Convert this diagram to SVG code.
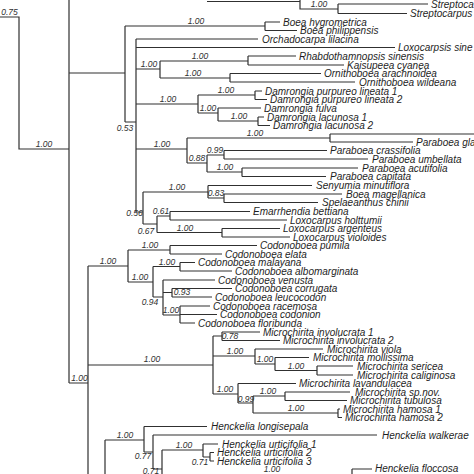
<svg xmlns="http://www.w3.org/2000/svg" width="474" height="474" viewBox="0 0 474 474">
<style>
.e{stroke:#303030;stroke-width:1.2;fill:none}
.t{font-family:"Liberation Sans",Arial,sans-serif;font-style:italic;font-size:10px;fill:#1e1e1e}
.s{font-family:"Liberation Sans",Arial,sans-serif;font-style:italic;font-size:8.5px;fill:#303030;text-anchor:middle}
</style>
<rect width="474" height="474" fill="#ffffff"/>
<g id="connectors" class="e">
<path d="M0 17H19V149H69M69 0V383M69 73H125M69 383H88"/>
<path d="M207 1.5H300M300 0V9H338M338 4V13.5M338 4H428M338 13.5H407"/>
<path d="M125 26V122M125 26H265M125 122H136M265 22V30.5M265 22H280M265 30.5H297"/>
<path d="M136 39V212M136 39H258M136 47.5H395M136 69H160M136 104H198M136 149H187M136 212H143"/>
<path d="M160 61V78M160 61H248M160 78H230M248 56V65M248 56H296M248 65H344M230 73.5V82M230 73.5H321M230 82H355"/>
<path d="M198 95V113M198 95H255M198 113H218M255 91V99.5M255 91H262M255 99.5H267M218 108V121M218 108H261M218 121H258M258 117V125.5M258 117H264M258 125.5H270"/>
<path d="M187 138V163M187 138H330M187 163H207M330 134V142M330 134H474M330 142H413M207 155V172M207 155H224M207 172H242M224 150.5V159M224 150.5H327M224 159H368M242 168V176.5M242 168H358M242 176.5H326"/>
<path d="M143 192V224M143 192H208M143 224H157M208 185.5V198M208 185.5H312M208 198H224M224 194V202.5M224 194H342M224 202.5H318M157 216V232.5M157 216H170M157 232.5H222M170 211.5V220M170 211.5H250M170 220H287M222 228.5V237M222 228.5H280M222 237H290"/>
<path d="M88 266V474M88 266H128M88 365H213M128 250V282M128 250H170M128 282H153M170 245.5V254M170 245.5H257M170 254H222M153 266.5V297M153 266.5H180M153 297H163M180 262.5V271M180 262.5H195M180 271H232M163 280V315M163 280H215M163 292.5H172M163 315H180M172 288.5V297M172 288.5H232M172 297H212M180 306V323M180 306H210M180 314.5H217M180 323H195"/>
<path d="M213 336V394M213 336H222M213 356H255M213 394H238M222 332V340.5M222 332H260M222 340.5H280M255 349V364M255 349H323M255 364H275M275 357.5V370.5M275 357.5H309M275 370.5H317M317 366V375M317 366H353M317 375H353M238 383.5V403M238 383.5H296M238 403H253M253 396V413M253 396H285M253 413H338M285 392V400.5M285 392H350M285 400.5H347M338 409V417.5M338 409H340M338 417.5H342"/>
<path d="M105 440V474M105 440H144M144 426.5V452M144 426.5H207M144 452H153M153 435V469M153 435H377M153 469H162M162 450V474M162 450H203M203 444V457M203 444H218M203 457H210M210 452.5V461M210 452.5H214M210 461H214M352 469V474M352 469H372M220 474.5H352"/>
</g>
<g id="support">
<text class="s" x="9.5" y="15">0.75</text>
<text class="s" x="44" y="147">1.00</text>
<text class="s" x="319" y="7">1.00</text>
<text class="s" x="196" y="24">1.00</text>
<text class="s" x="125" y="131">0.53</text>
<text class="s" x="149" y="67">1.00</text>
<text class="s" x="200" y="59">1.00</text>
<text class="s" x="193" y="76">1.00</text>
<text class="s" x="168" y="102">1.00</text>
<text class="s" x="226" y="93">1.00</text>
<text class="s" x="208" y="111">1.00</text>
<text class="s" x="239" y="119">1.00</text>
<text class="s" x="162" y="147">1.00</text>
<text class="s" x="255" y="136">1.00</text>
<text class="s" x="197" y="161">0.88</text>
<text class="s" x="215" y="153">0.99</text>
<text class="s" x="225" y="170">1.00</text>
<text class="s" x="134.5" y="216">0.56</text>
<text class="s" x="177" y="190">1.00</text>
<text class="s" x="216" y="196">0.83</text>
<text class="s" x="146" y="234">0.67</text>
<text class="s" x="161" y="214">0.61</text>
<text class="s" x="185" y="231">1.00</text>
<text class="s" x="79.5" y="381">1.00</text>
<text class="s" x="108" y="264">1.00</text>
<text class="s" x="150" y="248">1.00</text>
<text class="s" x="140" y="280">1.00</text>
<text class="s" x="167" y="264.5">1.00</text>
<text class="s" x="150" y="305">0.94</text>
<text class="s" x="182" y="295">0.93</text>
<text class="s" x="171" y="313">1.00</text>
<text class="s" x="152" y="362">1.00</text>
<text class="s" x="230" y="339">0.78</text>
<text class="s" x="235" y="354">1.00</text>
<text class="s" x="265" y="361.5">1.00</text>
<text class="s" x="296" y="369">1.00</text>
<text class="s" x="225" y="392">1.00</text>
<text class="s" x="246" y="401.5">0.99</text>
<text class="s" x="268" y="394">1.00</text>
<text class="s" x="296" y="411">1.00</text>
<text class="s" x="125" y="438">1.00</text>
<text class="s" x="143" y="459">0.77</text>
<text class="s" x="151" y="474">0.71</text>
<text class="s" x="184" y="448">1.00</text>
<text class="s" x="200" y="465">0.71</text>
<text class="s" x="272" y="472">1.00</text>
</g>
<g id="leaves" class="t">
<g id="n0"><text x="431" y="8">Streptoca</text></g>
<g id="n1"><text x="410" y="17">Streptocarpus a</text></g>
<g id="n2"><text x="283" y="25.6">Boea hygrometrica</text></g>
<g id="n3"><text x="300" y="34">Boea philippensis</text></g>
<g id="n4"><text x="262" y="42.6">Orchadocarpa lilacina</text></g>
<g id="n5"><text x="398" y="51">Loxocarpsis sine</text></g>
<g id="n6"><text x="299" y="59.6">Rhabdothamnopsis sinensis</text></g>
<g id="n7"><text x="347" y="68.6">Kaisupeea cyanea</text></g>
<g id="n8"><text x="324" y="77">Ornithoboea arachnoidea</text></g>
<g id="n9"><text x="359" y="85.6">Ornithoboea wildeana</text></g>
<g id="n10"><text x="265" y="94.6">Damrongia purpureo lineata 1</text></g>
<g id="n11"><text x="270" y="103">Damrongia purpureo lineata 2</text></g>
<g id="n12"><text x="264" y="111.6">Damrongia fulva</text></g>
<g id="n13"><text x="267" y="120.6">Damrongia lacunosa 1</text></g>
<g id="n14"><text x="273" y="129">Damrongia lacunosa 2</text></g>
<g id="n16"><text x="416" y="145.6">Paraboea gla</text></g>
<g id="n17"><text x="330" y="154">Paraboea crassifolia</text></g>
<g id="n18"><text x="372" y="162.6">Paraboea umbellata</text></g>
<g id="n19"><text x="362" y="171.6">Paraboea acutifolia</text></g>
<g id="n20"><text x="330" y="180">Paraboea capitata</text></g>
<g id="n21"><text x="316" y="189">Senyumia minutiflora</text></g>
<g id="n22"><text x="346" y="197.6">Boea magellanica</text></g>
<g id="n23"><text x="322" y="206">Spelaeanthus chinii</text></g>
<g id="n24"><text x="253" y="215">Emarrhendia bettiana</text></g>
<g id="n25"><text x="290" y="223.6">Loxocarpus holttumii</text></g>
<g id="n26"><text x="283" y="232">Loxocarpus argenteus</text></g>
<g id="n27"><text x="293" y="240.6">Loxocarpus violoides</text></g>
<g id="n28"><text x="260" y="249">Codonoboea pumila</text></g>
<g id="n29"><text x="225" y="257.6">Codonoboea elata</text></g>
<g id="n30"><text x="198" y="266">Codonoboea malayana</text></g>
<g id="n31"><text x="235" y="274.6">Codonoboea albomarginata</text></g>
<g id="n32"><text x="218" y="283.6">Codonoboea venusta</text></g>
<g id="n33"><text x="235" y="292">Codonoboea corrugata</text></g>
<g id="n34"><text x="215" y="300.6">Codonoboea leucocodon</text></g>
<g id="n35"><text x="213" y="309.6">Codonoboea racemosa</text></g>
<g id="n36"><text x="220" y="318">Codonoboea codonion</text></g>
<g id="n37"><text x="198" y="326.6">Codonoboea floribunda</text></g>
<g id="n38"><text x="263" y="335.6">Microchirita involucrata 1</text></g>
<g id="n39"><text x="283" y="344">Microchirita involucrata 2</text></g>
<g id="n40"><text x="327" y="352.6">Microchirita viola</text></g>
<g id="n41"><text x="313" y="361">Microchirita mollissima</text></g>
<g id="n42"><text x="357" y="369.6">Microchirita sericea</text></g>
<g id="n43"><text x="357" y="378.6">Microchirita caliginosa</text></g>
<g id="n44"><text x="299" y="387">Microchirita lavandulacea</text></g>
<g id="n45"><text x="355" y="395.6">Microchirita sp.nov.</text></g>
<g id="n46"><text x="350" y="404">Microchirita tubulosa</text></g>
<g id="n47"><text x="343" y="412.6">Microchirita hamosa 1</text></g>
<g id="n48"><text x="345" y="421">Microchirita hamosa 2</text></g>
<g id="n49"><text x="211" y="430">Henckelia longisepala</text></g>
<g id="n50"><text x="382" y="438.6">Henckelia walkerae</text></g>
<g id="n51"><text x="222" y="447.6">Henckelia urticifolia 1</text></g>
<g id="n52"><text x="217" y="456">Henckelia urticifolia 2</text></g>
<g id="n53"><text x="217" y="464.6">Henckelia urticifolia 3</text></g>
<g id="n54"><text x="375" y="472.4">Henckelia floccosa</text></g>
</g>
</svg>
